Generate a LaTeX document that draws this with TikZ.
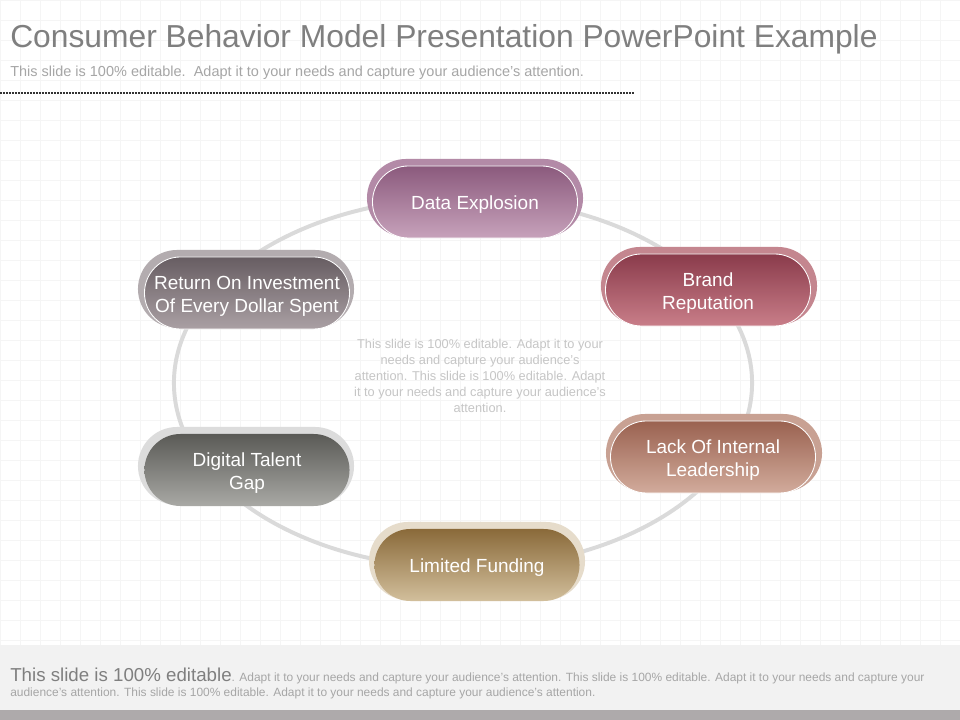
\documentclass[tikz,border=0pt]{standalone}
\usepackage{fontspec}
\setmainfont{Liberation Sans}
\usetikzlibrary{%
  shapes.misc%
}

\definecolor{titlegray}{HTML}{7F7F7F}
\definecolor{subgray}{HTML}{A6A6A6}
\definecolor{faintgray}{HTML}{C6C6C6}
\definecolor{ringgray}{HTML}{DADADA}
\definecolor{gridgray}{HTML}{F5F5F5}
\definecolor{footgray}{HTML}{F2F2F2}
\definecolor{bargray}{HTML}{AEAAAB}

\definecolor{dexBack}{HTML}{B38AA7}
\definecolor{dexTop}{HTML}{8B5A7D}
\definecolor{dexBot}{HTML}{C7A2BB}
\definecolor{brBack}{HTML}{C4868F}
\definecolor{brTop}{HTML}{8A3B4B}
\definecolor{brBot}{HTML}{C97E89}
\definecolor{liBack}{HTML}{C8A193}
\definecolor{liTop}{HTML}{9A6250}
\definecolor{liBot}{HTML}{D2AB9C}
\definecolor{lfBack}{HTML}{E6DCCB}
\definecolor{lfTop}{HTML}{8A6A3A}
\definecolor{lfBot}{HTML}{D2BF9C}
\definecolor{dtBack}{HTML}{DCDCDC}
\definecolor{dtTop}{HTML}{5A5A56}
\definecolor{dtBot}{HTML}{A9A9A5}
\definecolor{roiBack}{HTML}{B3ACAF}
\definecolor{roiTop}{HTML}{675D62}
\definecolor{roiBot}{HTML}{AAA0A4}

\newcommand{\pilltext}[1]{\raisebox{-2.2pt}[\height][\depth]{\begin{tabular}{@{}c@{}}#1\end{tabular}}}

\tikzset{
  pillback/.style={rounded rectangle, minimum width=5.4cm,
    minimum height=1.95cm, inner sep=0pt, fill=#1},
  pill/.style={rounded rectangle, minimum width=5.125cm,
    minimum height=1.8cm, inner sep=0pt, align=center, text=white,
    font=\fontsize{13.5}{16.4}\selectfont},
  rim/.style={draw=white, line width=0.6pt}
}

\begin{document}
\begin{tikzpicture}[x=0.025cm, y=-0.025cm]
  \useasboundingbox (0,0) rectangle (960,720);
  \fill[white] (0,0) rectangle (960,720);

  % faint grid
  \foreach \gx in {0,20,...,960}
    \draw[gridgray, line width=0.4pt] (\gx,0) -- (\gx,645);
  \foreach \gy in {0,20,...,640}
    \draw[gridgray, line width=0.4pt] (0,\gy) -- (960,\gy);

  % heading
  \node[anchor=base west, inner sep=0pt, text=titlegray,
    font=\fontsize{22.6}{26}\selectfont] (title) at (10,48)
    {Consumer Behavior Model Presentation PowerPoint Example};
  \node[anchor=base west, inner sep=0pt, text=subgray,
    font=\fontsize{10.3}{12}\selectfont] (subtitle) at (10,77)
    {This slide is 100\% editable.\ \ Adapt it to your needs and capture your audience's attention.};
  \draw[dash pattern=on 1.42pt off 0.71pt, line width=0.9pt, black!80] (0,93) -- (634,93);

  % ring
  \draw[ringgray, line width=2.8pt] (463,383) ellipse [x radius=7.225cm, y radius=4.625cm];

  % middle text
  \node[align=center, text=faintgray, inner sep=0pt,
    font=\fontsize{9.1}{11.4}\selectfont] (blurb) at (480,376)
    {This slide is 100\% editable. Adapt it to your\\
     needs and capture your audience’s\\
     attention. This slide is 100\% editable. Adapt\\
     it to your needs and capture your audience’s\\
     attention.};

  % pills
  \node[pillback=dexBack] (dataexp-back) at (475,198) {};
  \node[pill, rim, top color=dexTop, bottom color=dexBot] (dataexp) at (475,202) {\pilltext{Data Explosion}};

  \node[pillback=brBack] (brand-back) at (709,286) {};
  \node[pill, rim, top color=brTop, bottom color=brBot] (brand) at (708,290) {\pilltext{Brand\\Reputation}};

  \node[pillback=liBack] (leader-back) at (714,453) {};
  \node[pill, rim, top color=liTop, bottom color=liBot] (leader) at (713,457) {\pilltext{Lack Of Internal\\Leadership}};

  \node[pillback=lfBack] (funding-back) at (477,561) {};
  \node[pill, top color=lfTop, bottom color=lfBot] (funding) at (477,565) {\pilltext{Limited Funding}};

  \node[pillback=dtBack] (talent-back) at (246,466) {};
  \node[pill, top color=dtTop, bottom color=dtBot] (talent) at (247,470) {\pilltext{Digital Talent\\Gap}};

  \node[pillback=roiBack] (roi-back) at (246,289) {};
  \node[pill, rim, top color=roiTop, bottom color=roiBot] (roi) at (247,293) {\pilltext{Return On Investment\\Of Every Dollar Spent}};

  % footer
  \fill[footgray] (0,645) rectangle (960,710);
  \fill[bargray] (0,710) rectangle (960,720);
  \node[anchor=base west, inner sep=0pt] (foot1) at (10,681)
    {{\fontsize{13.3}{15}\selectfont\color{titlegray}This slide is 100\% editable}{\fontsize{8.5}{10}\selectfont\color{subgray}. Adapt it to your needs and capture your audience’s attention. This slide is 100\% editable. Adapt it to your needs and capture your}};
  \node[anchor=base west, inner sep=0pt, text=subgray,
    font=\fontsize{8.5}{10}\selectfont] (foot2) at (10,696)
    {audience’s attention. This slide is 100\% editable. Adapt it to your needs and capture your audience’s attention.};
\end{tikzpicture}
\end{document}
